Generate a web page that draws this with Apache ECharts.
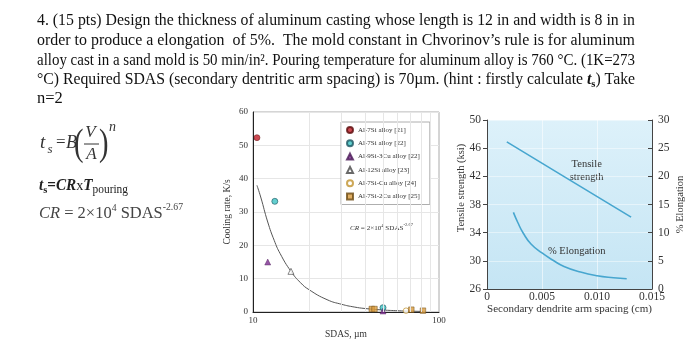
<!DOCTYPE html>
<html><head><meta charset="utf-8">
<script src="https://cdn.jsdelivr.net/npm/echarts@6/dist/echarts.min.js"></script>
<style>html,body{margin:0;padding:0;background:#fff}#c{width:700px;height:356px}</style>
</head><body><div id="c"></div>
<script>
// ---------------- data ----------------
const problemLine1 = '4. (15 pts) Design the thickness of aluminum casting whose length is 12 in and width is 8 in in';
const problemLine2 = 'order to produce a elongation  of 5%.  The mold constant in Chvorinov’s rule is for aluminum';
const problemLine3 = 'alloy cast in a sand mold is 50 min/in². Pouring temperature for aluminum alloy is 760 °C. (1K=273';
const problemLine4a = '°C) Required SDAS (secondary dentritic arm spacing) is 70µm. (hint : firstly calculate ';
const problemLine4b = ') Take';
const problemLine5 = 'n=2';

const legendNames = ['Al-7Si alloy [21]', 'Al-7Si alloy [22]', 'Al-9Si-3Cu alloy [22]', 'Al-12Si alloy [23]', 'Al-7Si-Cu alloy [24]', 'Al-7Si-2Cu alloy [25]'];
const al7si21 = [[10.5, 52.3]];
const al7si22 = [[13.1, 33.2], [50, 1.3]];
const al9si3cu22 = [[12.0, 15.0], [50, 0.3]];
const al12si23 = [[16.0, 12.2]];
const al7sicu24 = [[66.5, 0.4]];
const al7si2cu25 = [[43.5, 0.9], [45, 0.9], [71, 0.7], [82, 0.4]];
const coolingCurve = [[10.5, 38], [11, 34.5], [12, 27], [13, 21.5], [14, 17.5], [16, 12.2], [18, 8.8], [20, 6.7], [25, 3.7], [30, 2.3], [35, 1.5], [40, 1.05], [50, 0.6], [60, 0.38], [70, 0.26], [82, 0.17]];
const sdasGridLines = [20, 30, 40, 50, 60, 70, 80, 90];

const tensileStrength = [[0.0018, 46.9], [0.0075, 41.5], [0.0131, 36.2]];
const elongation = [[0.0024, 13.6], [0.0028, 11.8], [0.0033, 9.9], [0.004, 8.0], [0.005, 6.4], [0.006, 5.1], [0.007, 4.0], [0.0085, 3.0], [0.010, 2.35], [0.0115, 2.0], [0.0127, 1.82]];

// ---------------- helpers ----------------
const SERIF = '"Liberation Serif", "DejaVu Serif", serif';
const mctx = document.createElement('canvas').getContext('2d');
function fontStr(p) { return (p.style || 'normal') + ' ' + (p.weight || 'normal') + ' ' + p.size + 'px ' + SERIF; }
function measure(p) { mctx.font = fontStr(p); return mctx.measureText(p.text).width; }
function seqGroup(x, y, pieces, target, color) {
  let cx = 0; const children = [];
  pieces.forEach(p => {
    children.push({ type: 'text', x: cx, y: (p.dy || 0), silent: true,
      style: { text: p.text, font: fontStr(p), fill: color, textAlign: 'left', textVerticalAlign: 'middle', align: 'left', verticalAlign: 'middle' } });
    cx += measure(p);
  });
  const sx = target ? target / cx : 1;
  return { type: 'group', x: x, y: y, scaleX: sx, children: children };
}
function txt(x, y, text, size, opts) {
  opts = opts || {};
  const p = { text: text, size: size, style: opts.style, weight: opts.weight };
  return { type: 'text', x: x, y: y, rotation: opts.rotation || 0, scaleX: opts.scaleX || 1, silent: true,
    style: { text: text, font: fontStr(p), fill: opts.color || '#222', textAlign: opts.align || 'left', align: opts.align || 'left',
      textVerticalAlign: 'middle', verticalAlign: 'middle' } };
}

const TXT = 16.5, TW = 598, TX = 37, TC = '#111';
const graphics = [
  seqGroup(TX, 21, [{ text: problemLine1, size: TXT }], TW, TC),
  seqGroup(TX, 41, [{ text: problemLine2, size: TXT }], TW, TC),
  seqGroup(TX, 61, [{ text: problemLine3, size: TXT }], TW, TC),
  seqGroup(TX, 80, [{ text: problemLine4a, size: TXT }, { text: 't', size: TXT, style: 'italic', weight: 'bold' },
    { text: 's', size: 11, weight: 'bold', dy: 4 }, { text: problemLine4b, size: TXT }], TW, TC),
  seqGroup(TX, 99, [{ text: problemLine5, size: TXT }], null, TC),

  // t_s = B (V/A)^n
  txt(40, 143, 't', 19, { style: 'italic', color: '#333' }),
  txt(47.5, 150, 's', 13, { style: 'italic', color: '#333' }),
  txt(56, 143, '=', 17, { color: '#333' }),
  txt(66, 143, 'B', 18, { style: 'italic', color: '#333' }),
  txt(74, 145, '(', 38, { color: '#333', scaleX: 0.75 }),
  txt(90.5, 133, 'V', 17, { style: 'italic', color: '#333', align: 'center' }),
  { type: 'line', silent: true, shape: { x1: 84, y1: 144, x2: 99, y2: 144 }, style: { stroke: '#333', lineWidth: 1 } },
  txt(91.5, 155, 'A', 17, { style: 'italic', color: '#333', align: 'center' }),
  txt(99, 145, ')', 38, { color: '#333', scaleX: 0.75 }),
  txt(109, 127, 'n', 14, { style: 'italic', color: '#333' }),

  // t_s = CR x T_pouring
  seqGroup(39, 186, [{ text: 't', size: 16, style: 'italic', weight: 'bold' }, { text: 's', size: 11, weight: 'bold', dy: 4 },
    { text: '=', size: 16, weight: 'bold' }, { text: 'CR', size: 16, style: 'italic', weight: 'bold' }, { text: 'x', size: 15 },
    { text: 'T', size: 16, style: 'italic', weight: 'bold' }, { text: 'pouring', size: 12, dy: 4 }], 89, '#222'),

  // CR = 2x10^4 SDAS^-2.67
  seqGroup(39, 214, [{ text: 'CR', size: 17, style: 'italic' }, { text: ' = 2×10', size: 17 }, { text: '4', size: 10, dy: -6 },
    { text: ' SDAS', size: 17 }, { text: '-2.67', size: 10, dy: -7 }], 144, '#444'),

  // chart annotations
  seqGroup(350, 228, [{ text: 'CR', size: 7, style: 'italic' }, { text: ' = 2×10', size: 7 }, { text: '4', size: 4.5, dy: -2.5 },
    { text: ' SDAS', size: 7 }, { text: '-2.67', size: 4.5, dy: -3 }], 63, '#333'),
  txt(586.7, 164.5, 'Tensile', 10.5, { align: 'center', color: '#333' }),
  txt(586.7, 177, 'strength', 10.5, { align: 'center', color: '#333' }),
  txt(576.7, 251.7, '% Elongation', 10.5, { align: 'center', color: '#333' }),
  txt(461, 188, 'Tensile strength (ksi)', 10.5, { align: 'center', color: '#333', rotation: Math.PI / 2 })
];

const axLbl = (size, margin) => ({ fontFamily: SERIF, fontSize: size, color: '#333', margin: margin });
const nameStyle = size => ({ fontFamily: SERIF, fontSize: size, color: '#333' });

const option = {
  animation: false,
  backgroundColor: '#fff',
  graphic: { elements: graphics },
  grid: [
    { left: 253, top: 112, width: 186, height: 200, show: true, borderColor: '#aaa', borderWidth: 1, backgroundColor: '#fff', containLabel: false, outerBoundsMode: 'none' },
    { left: 487, top: 120, width: 165, height: 169, show: true, borderWidth: 0, containLabel: false, outerBoundsMode: 'none',
      backgroundColor: new echarts.graphic.LinearGradient(0, 0, 0, 1, [{ offset: 0, color: '#ddf1fa' }, { offset: 1, color: '#c5e5f4' }]) }
  ],
  legend: {
    data: legendNames, orient: 'vertical', left: 341, top: 122,
    itemWidth: 6, itemHeight: 6, itemGap: 5.3, padding: [4, 10, 4, 5],
    borderColor: '#999', borderWidth: 0.8, backgroundColor: '#fff', borderRadius: 0,
    textStyle: { fontFamily: SERIF, fontSize: 7, color: '#333' }, selectedMode: false
  },
  xAxis: [
    { type: 'log', gridIndex: 0, min: 10, max: 100, logBase: 10,
      name: 'SDAS, µm', nameLocation: 'middle', nameGap: 9, nameTextStyle: nameStyle(9.5),
      axisLine: { lineStyle: { color: '#222', width: 1 } }, axisTick: { show: false },
      axisLabel: axLbl(9, 4), splitLine: { show: false }, minorSplitLine: { show: false } },
    { type: 'value', gridIndex: 1, min: 0, max: 0.015, interval: 0.005,
      name: 'Secondary dendrite arm spacing (cm)', nameLocation: 'middle', nameGap: 12, nameTextStyle: nameStyle(11),
      axisLine: { lineStyle: { color: '#444', width: 1 } }, axisTick: { show: false },
      axisLabel: Object.assign(axLbl(11.5, 2), { formatter: v => v === 0 ? '0' : v.toFixed(3) }),
      splitLine: { show: true, lineStyle: { color: 'rgba(255,255,255,0.55)', width: 1 } } }
  ],
  yAxis: [
    { type: 'value', gridIndex: 0, min: 0, max: 60, interval: 10,
      name: 'Cooling rate, K/s', nameLocation: 'middle', nameGap: 21, nameRotate: 90, nameTextStyle: nameStyle(9.5),
      axisLine: { show: true, lineStyle: { color: '#222', width: 1 } }, axisTick: { show: false },
      axisLabel: axLbl(9, 5), splitLine: { show: true, lineStyle: { color: '#e6e6e6', width: 1 } } },
    { type: 'value', gridIndex: 1, min: 26, max: 50, interval: 4, position: 'left',
      axisLine: { show: true, lineStyle: { color: '#444', width: 1 } },
      axisTick: { show: true, length: 4, lineStyle: { color: '#444' } },
      axisLabel: axLbl(11.5, 6), splitLine: { show: true, lineStyle: { color: 'rgba(255,255,255,0.45)', width: 1 } } },
    { type: 'value', gridIndex: 1, min: 0, max: 30, interval: 5, position: 'right',
      name: '% Elongation', nameLocation: 'middle', nameGap: 23, nameRotate: 90, nameTextStyle: nameStyle(10.5),
      axisLine: { show: true, lineStyle: { color: '#444', width: 1 } },
      axisTick: { show: true, inside: true, length: 4, lineStyle: { color: '#444' } },
      axisLabel: axLbl(11.5, 6), splitLine: { show: false } }
  ],
  series: [
    { name: 'curve', type: 'line', xAxisIndex: 0, yAxisIndex: 0, data: coolingCurve, smooth: true, symbol: 'none',
      lineStyle: { color: '#555', width: 1 }, z: 2,
      markLine: { silent: true, symbol: 'none', label: { show: false }, animation: false,
        lineStyle: { color: '#e6e6e6', width: 1, type: 'solid' }, data: sdasGridLines.map(v => ({ xAxis: v })) } },
    { name: legendNames[0], type: 'scatter', xAxisIndex: 0, yAxisIndex: 0, data: al7si21, symbol: 'circle', symbolSize: 6,
      itemStyle: { color: '#c01d28', borderColor: '#5a0a0a', borderWidth: 0.6 }, z: 3 },
    { name: legendNames[1], type: 'scatter', xAxisIndex: 0, yAxisIndex: 0, data: al7si22, symbol: 'circle', symbolSize: 6,
      itemStyle: { color: '#3cc3c3', borderColor: '#1d5560', borderWidth: 0.8 }, z: 3 },
    { name: legendNames[2], type: 'scatter', xAxisIndex: 0, yAxisIndex: 0, data: al9si3cu22, symbol: 'triangle', symbolSize: 6,
      itemStyle: { color: '#7a2c8e', borderColor: '#4a1a56', borderWidth: 0.5 }, z: 3 },
    { name: legendNames[3], type: 'scatter', xAxisIndex: 0, yAxisIndex: 0, data: al12si23, symbol: 'triangle', symbolSize: 6,
      itemStyle: { color: '#fff', borderColor: '#444', borderWidth: 0.8 }, z: 3 },
    { name: legendNames[4], type: 'scatter', xAxisIndex: 0, yAxisIndex: 0, data: al7sicu24, symbol: 'circle', symbolSize: 5.5,
      itemStyle: { color: '#fff', borderColor: '#c0922e', borderWidth: 0.9 }, z: 3 },
    { name: legendNames[5], type: 'scatter', xAxisIndex: 0, yAxisIndex: 0, data: al7si2cu25, symbol: 'rect', symbolSize: 5.5,
      itemStyle: { color: '#d89b3e', borderColor: '#6b4a12', borderWidth: 0.6 }, z: 3 },
    { name: 'Tensile strength', type: 'line', xAxisIndex: 1, yAxisIndex: 1, data: tensileStrength, smooth: true, symbol: 'none',
      lineStyle: { color: '#47a6cf', width: 1.6 } },
    { name: '% Elongation', type: 'line', xAxisIndex: 1, yAxisIndex: 2, data: elongation, smooth: true, symbol: 'none',
      lineStyle: { color: '#47a6cf', width: 1.6 } }
  ]
};
const chart = echarts.init(document.getElementById('c'), null, { renderer: 'canvas' });
chart.setOption(option);
</script></body></html>
